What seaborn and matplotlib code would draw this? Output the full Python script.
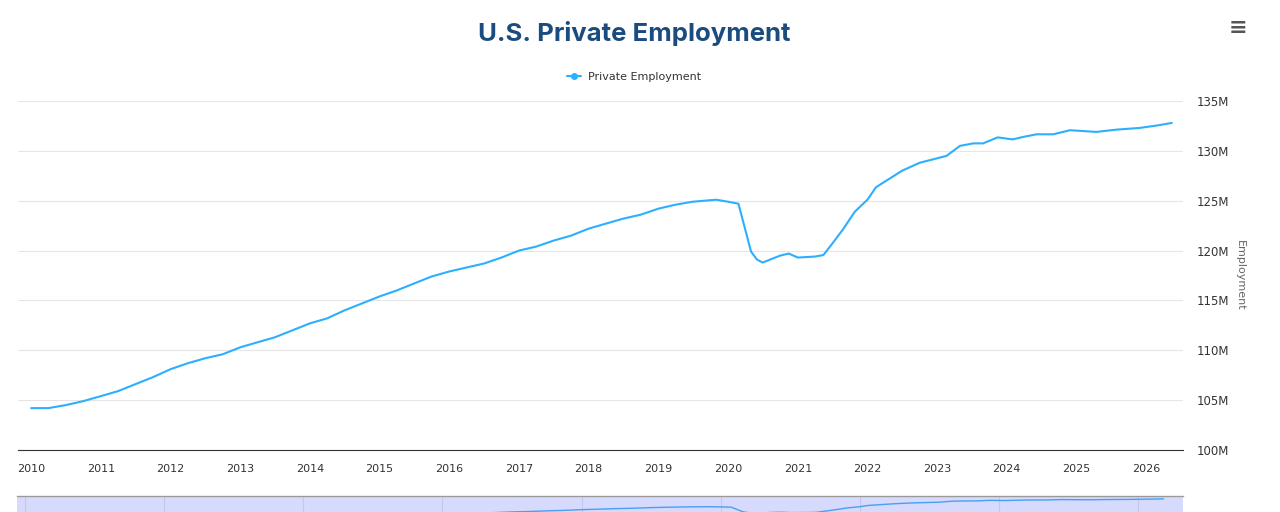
import numpy as np
import matplotlib
matplotlib.use("Agg")
import matplotlib.pyplot as plt
import matplotlib.dates as mdates
import matplotlib.ticker as mticker
from matplotlib.lines import Line2D
import pandas as pd
import seaborn as sns

# data (values in millions)
dates = [
    '2010-01-01', '2010-04-01', '2010-07-01', '2010-10-01',
    '2011-01-01', '2011-04-01', '2011-07-01', '2011-10-01',
    '2012-01-01', '2012-04-01', '2012-07-01', '2012-10-01',
    '2013-01-01', '2013-04-01', '2013-07-01', '2013-10-01',
    '2014-01-01', '2014-04-01', '2014-07-01', '2014-10-01',
    '2015-01-01', '2015-04-01', '2015-07-01', '2015-10-01',
    '2016-01-01', '2016-04-01', '2016-07-01', '2016-10-01',
    '2017-01-01', '2017-04-01', '2017-07-01', '2017-10-01',
    '2018-01-01', '2018-04-01', '2018-07-01', '2018-10-01',
    '2019-01-01', '2019-04-01', '2019-07-01', '2019-11-01',
    '2020-01-01', '2020-02-25', '2020-05-01', '2020-06-01',
    '2020-07-01', '2020-10-01', '2020-11-15', '2021-01-01',
    '2021-04-01', '2021-05-15', '2021-07-01', '2021-08-25',
    '2021-10-27', '2022-01-01', '2022-02-15', '2022-04-01',
    '2022-07-01', '2022-10-01', '2023-02-20', '2023-05-01',
    '2023-07-10', '2023-08-30', '2023-11-15', '2024-02-01',
    '2024-03-28', '2024-06-05', '2024-09-01', '2024-11-28',
    '2025-04-15', '2025-07-30', '2025-11-28', '2026-03-01',
    '2026-05-15',
]
employment = [
    104.2, 104.2, 104.5, 104.9,
    105.4, 105.9, 106.6, 107.3,
    108.1, 108.7, 109.2, 109.6,
    110.3, 110.8, 111.3, 112.0,
    112.7, 113.2, 114.0, 114.7,
    115.4, 116.0, 116.7, 117.4,
    117.9, 118.3, 118.7, 119.3,
    120.0, 120.4, 121.0, 121.5,
    122.2, 122.7, 123.2, 123.6,
    124.2, 124.6, 124.9, 125.1,
    124.9, 124.7, 119.9, 119.1,
    118.8, 119.5, 119.7, 119.3,
    119.4, 119.55, 120.7, 122.1,
    123.9, 125.1, 126.35, 126.9,
    128.0, 128.8, 129.5, 130.5,
    130.75, 130.75, 131.35, 131.15,
    131.4, 131.66, 131.66, 132.07,
    131.9, 132.13, 132.3, 132.55,
    132.8,
]
series_name = "Private Employment"
y_ticks = [100, 105, 110, 115, 120, 125, 130, 135]

df = pd.DataFrame({"date": pd.to_datetime(dates), "value": employment})

LINE = "#2caffe"
TEXT = "#333333"

sns.set_style("white")
plt.rcParams["font.family"] = ["DejaVu Sans"]

fig = plt.figure(figsize=(12.8, 5.12), dpi=100)
ax = fig.add_axes([18 / 1280, 1 - 450 / 512, 1165 / 1280, 349 / 512])

sns.lineplot(data=df, x="date", y="value", ax=ax, color=LINE, linewidth=1.5,
             legend=False)

ax.set_xlim(pd.Timestamp("2009-10-24"), pd.Timestamp("2026-07-13"))
ax.set_ylim(100, 135)
ax.set_yticks(y_ticks)
ax.yaxis.set_major_formatter(mticker.FuncFormatter(lambda v, p: f"{v:.0f}M"))
ax.yaxis.tick_right()
ax.yaxis.set_label_position("right")
ax.tick_params(axis="y", length=0, pad=10, labelsize=8.5, labelcolor=TEXT)
ax.xaxis.set_major_locator(mdates.YearLocator())
ax.xaxis.set_major_formatter(mdates.DateFormatter("%Y"))
ax.tick_params(axis="x", length=7, width=0.8, color=TEXT, pad=3,
               labelsize=8, labelcolor=TEXT, direction="out")
ax.grid(axis="y", color="#e6e6e6", linewidth=0.8)
ax.grid(axis="x", visible=False)
for side in ["top", "left", "right"]:
    ax.spines[side].set_visible(False)
ax.spines["bottom"].set_color(TEXT)
ax.spines["bottom"].set_linewidth(0.8)
ax.set_xlabel("")
ax.set_ylabel("Employment", rotation=270, fontsize=8, color="#666666")
ax.yaxis.label.set_va("center")
ax.yaxis.label.set_ha("center")
ax.yaxis.set_label_coords((1240 - 18) / 1165, 0.5)

# navigator strip at the bottom (cut off by the figure edge)
nav = fig.add_axes([17 / 1280, 0, 1166 / 1280, 16 / 512])
nav.set_facecolor("#d6dafc")
sns.lineplot(data=df, x="date", y="value", ax=nav, color="#4aa0f0",
             linewidth=1.0, legend=False)
nav.set_xlim(pd.Timestamp("2009-11-20"), pd.Timestamp("2026-08-25"))
nav.set_ylim(119.9, 135.6)
nav.xaxis.set_major_locator(mdates.YearLocator(2))
nav.grid(axis="x", color="#c3c8f2", linewidth=0.8)
nav.set_xticklabels([])
nav.set_yticks([])
nav.tick_params(length=0)
nav.set_xlabel("")
nav.set_ylabel("")
for side in ["left", "right", "bottom"]:
    nav.spines[side].set_visible(False)
nav.spines["top"].set_color("#9a9a9a")
nav.spines["top"].set_linewidth(1.0)

fig.text(634 / 1280, 1 - 33 / 512, "U.S. Private Employment", ha="center", va="center",
         fontsize=18.5, fontweight="bold", color="#1b4c7f", family=["Inter", "DejaVu Sans"])

legend_handle = Line2D([], [], color=LINE, linewidth=1.5, marker="o", markersize=4)
fig.legend([legend_handle], [series_name], loc="center",
           bbox_to_anchor=(634 / 1280, 1 - 77 / 512),
           frameon=False, fontsize=8, handlelength=1.3, handletextpad=0.6,
           labelcolor=TEXT)

fig.text(1238 / 1280, 1 - 28 / 512, "\u2261", ha="center", va="center",
         fontsize=16, color="#555555", fontweight="bold")

fig.savefig("out.png", dpi=100)
